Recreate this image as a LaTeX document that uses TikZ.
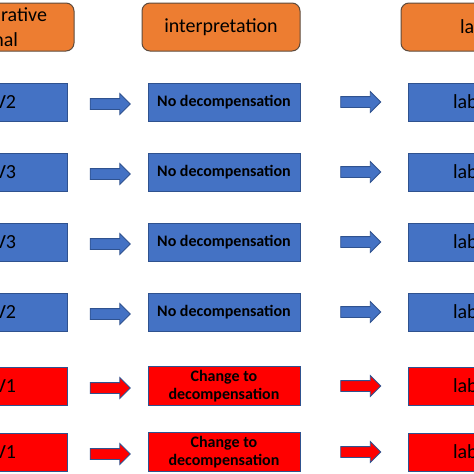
\documentclass[tikz,border=0pt]{standalone}
\usepackage{fontspec}
\setmainfont{Carlito}
\usetikzlibrary{shapes.arrows,calc,positioning}
\definecolor{boxblue}{HTML}{4472C4}
\definecolor{lineblue}{HTML}{2F528F}
\definecolor{boxorange}{HTML}{ED7D31}
\definecolor{lineorange}{HTML}{5E4B3C}
\definecolor{boxred}{HTML}{FF0000}
\tikzset{
    head/.style =   {rectangle,
                    rounded corners=8pt,
                    fill=boxorange,
                    draw=lineorange,
                    text=black,
                    line width=1pt,
                    align=center,
                    minimum width=158pt,
                    minimum height=48pt,
                    font=\fontsize{20}{24.5}\selectfont},
    score/.style =  {rectangle,
                    fill=boxblue,
                    draw=lineblue,
                    text=black,
                    line width=1pt,
                    minimum width=152pt,
                    minimum height=38pt,
                    font=\fontsize{20}{24}\selectfont},
    interp/.style = {score,
                    align=center,
                    font=\fontsize{16}{18.5}\selectfont\bfseries},
    bad/.style =    {fill=boxred},
    barrow/.style = {single arrow,
                    fill=boxblue,
                    draw=lineblue,
                    line width=0.8pt,
                    inner xsep=0pt,
                    inner ysep=5pt,
                    minimum height=40pt,
                    minimum width=20pt,
                    single arrow head extend=5pt,
                    single arrow head indent=0pt},
    rarrow/.style = {barrow,
                    fill=boxred}
}

\begin{document}
\begin{tikzpicture}[x=1pt,y=-1pt]
    \useasboundingbox (0,0) rectangle (474,474);
    \clip (0,0) rectangle (474,474);
    \node[head]         (H1) at (-5,27)     {\makebox[104pt][r]{rative}\\\makebox[46pt][r]{nal}};
    \node[head]         (H2) at (221,27)    {interpretation};
    \node[head]         (H3) at (480,27)    {\makebox[40pt][l]{la}};

    \node[score]        (S1) at (-9,102)    {\makebox[50pt][r]{V2}};
    \node[score]        (S2) at (-9,172)    {\makebox[50pt][r]{V3}};
    \node[score]        (S3) at (-9,242)    {\makebox[50pt][r]{V3}};
    \node[score]        (S4) at (-9,312)    {\makebox[50pt][r]{V2}};
    \node[score,bad]    (S5) at (-9,386)    {\makebox[50pt][r]{V1}};
    \node[score,bad]    (S6) at (-9,452)    {\makebox[50pt][r]{V1}};

    \node[interp]       (I1) at (224,102)   {No decompensation};
    \node[interp]       (I2) at (224,172)   {No decompensation};
    \node[interp]       (I3) at (224,242)   {No decompensation};
    \node[interp]       (I4) at (224,312)   {No decompensation};
    \node[interp,bad]   (I5) at (224,386)   {Change to\\decompensation};
    \node[interp,bad]   (I6) at (224,452)   {Change to\\decompensation};

    \node[score]        (L1) at (484,102)   {\makebox[62pt][l]{lab}};
    \node[score]        (L2) at (484,172)   {\makebox[62pt][l]{lab}};
    \node[score]        (L3) at (484,242)   {\makebox[62pt][l]{lab}};
    \node[score]        (L4) at (484,312)   {\makebox[62pt][l]{lab}};
    \node[score,bad]    (L5) at (484,386)   {\makebox[62pt][l]{lab}};
    \node[score,bad]    (L6) at (484,452)   {\makebox[62pt][l]{lab}};

    % arrows between the columns
    \node[barrow]       (A1) at ($(S1.east)!.5!(I1.west)+(0,2)$) {};
    \node[barrow]       (A2) at ($(S2.east)!.5!(I2.west)+(0,2)$) {};
    \node[barrow]       (A3) at ($(S3.east)!.5!(I3.west)+(0,2)$) {};
    \node[barrow]       (A4) at ($(S4.east)!.5!(I4.west)+(0,2)$) {};
    \node[rarrow]       (A5) at ($(S5.east)!.5!(I5.west)+(0,2)$) {};
    \node[rarrow]       (A6) at ($(S6.east)!.5!(I6.west)+(0,2)$) {};
    \node[barrow]       (B1) at ($(I1.east)!.5!(L1.west)+(4,0)$) {};
    \node[barrow]       (B2) at ($(I2.east)!.5!(L2.west)+(4,0)$) {};
    \node[barrow]       (B3) at ($(I3.east)!.5!(L3.west)+(4,0)$) {};
    \node[barrow]       (B4) at ($(I4.east)!.5!(L4.west)+(4,0)$) {};
    \node[rarrow]       (B5) at ($(I5.east)!.5!(L5.west)+(4,0)$) {};
    \node[rarrow]       (B6) at ($(I6.east)!.5!(L6.west)+(4,0)$) {};
\end{tikzpicture}
\end{document}
